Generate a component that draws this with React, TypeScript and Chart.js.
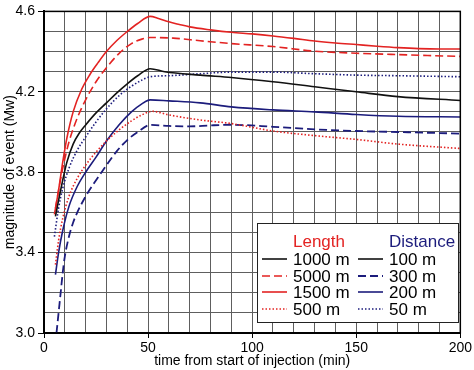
import React, { useEffect, useRef } from "react";
import { Chart, registerables } from "chart.js";
Chart.register(...registerables);

// ---- data (time in min, magnitude Mw) ----
const black1000T = [5.5, 7, 9, 11, 14, 17, 20, 25, 30, 35, 40, 45, 51, 58, 75, 90, 110, 130, 150, 170, 200];
const black1000V = [3.58, 3.66, 3.76, 3.85, 3.94, 3.995, 4.035, 4.095, 4.145, 4.195, 4.24, 4.28, 4.315, 4.30, 4.283, 4.271, 4.25, 4.225, 4.20, 4.176, 4.157];

const red5000T = [5.5, 7, 9, 12, 16, 20, 25, 30, 36, 42, 47, 51, 62, 75, 90, 110, 130, 150, 170, 200];
const red5000V = [3.62, 3.71, 3.82, 3.95, 4.07, 4.16, 4.25, 4.32, 4.39, 4.44, 4.462, 4.47, 4.467, 4.454, 4.44, 4.425, 4.402, 4.392, 4.385, 4.376];

const red1500T = [5, 7, 9, 11, 14, 18, 22, 26, 30, 35, 40, 45, 51, 55, 60, 65, 70, 80, 90, 100, 110, 120, 130, 140, 150, 160, 170, 180, 190, 200];
const red1500V = [3.59, 3.71, 3.85, 3.97, 4.10, 4.21, 4.285, 4.345, 4.40, 4.455, 4.50, 4.54, 4.575, 4.565, 4.548, 4.535, 4.523, 4.508, 4.496, 4.488, 4.478, 4.466, 4.453, 4.443, 4.435, 4.427, 4.42, 4.415, 4.413, 4.413];

const red500T = [5.5, 7, 9, 12, 16, 20, 25, 30, 36, 42, 47, 52, 60, 75, 90, 110, 130, 150, 170, 200];
const red500V = [3.34, 3.46, 3.57, 3.68, 3.77, 3.835, 3.90, 3.955, 4.01, 4.055, 4.085, 4.103, 4.085, 4.06, 4.042, 4.005, 3.982, 3.963, 3.94, 3.918];

const navy300T = [6, 7, 8, 9, 10, 12, 14, 16, 20, 24, 27, 30, 35, 40, 45, 51, 60, 70, 80, 90, 110, 130, 150, 170, 200];
const navy300V = [3.0, 3.1, 3.2, 3.3, 3.38, 3.48, 3.55, 3.60, 3.68, 3.745, 3.79, 3.835, 3.905, 3.96, 4.0, 4.035, 4.03, 4.028, 4.033, 4.036, 4.026, 4.013, 4.005, 4.0, 3.992];

const navy200T = [5.5, 7, 9, 12, 16, 20, 25, 30, 36, 42, 47, 51, 60, 75, 90, 110, 130, 150, 170, 200];
const navy200V = [3.29, 3.40, 3.51, 3.63, 3.73, 3.80, 3.875, 3.955, 4.035, 4.10, 4.14, 4.16, 4.155, 4.145, 4.125, 4.11, 4.10, 4.087, 4.078, 4.075];

const navy50T = [5, 7, 9, 12, 16, 20, 25, 30, 36, 42, 47, 51, 60, 75, 90, 110, 130, 150, 170, 200];
const navy50V = [3.48, 3.62, 3.72, 3.82, 3.91, 3.975, 4.05, 4.115, 4.18, 4.228, 4.258, 4.275, 4.28, 4.29, 4.298, 4.298, 4.29, 4.283, 4.28, 4.275];

const xLabelTicks = [0, 50, 100, 150, 200];
const yLabelTicks = [3.0, 3.4, 3.8, 4.2, 4.6];

const lengthTitle = "Length";
const distanceTitle = "Distance";
const lengthLabels = ["1000 m", "5000 m", "1500 m", "500 m"];
const distanceLabels = ["100 m", "300 m", "200 m", "50 m"];

const xTitle = "time from start of injection (min)";
const yTitle = "magnitude of event (Mw)";

const RED = "#e32322";
const NAVY = "#1c1c7c";
const BLACK = "#111111";
const FONT = "'Liberation Sans', Arial, sans-serif";

const SOLID: number[] = [];
const DASH = [8, 4];
const DOT = [1.5, 2];

const toPts = (t: number[], v: number[]) => t.map((x, i) => ({ x, y: v[i] }));

type Style = { color: string; dash: number[]; width: number };
const lengthStyles: Style[] = [
  { color: BLACK, dash: SOLID, width: 1.6 },
  { color: RED, dash: DASH, width: 1.6 },
  { color: RED, dash: SOLID, width: 1.6 },
  { color: RED, dash: DOT, width: 1.6 },
];
const distanceStyles: Style[] = [
  { color: BLACK, dash: SOLID, width: 1.6 },
  { color: NAVY, dash: DASH, width: 1.8 },
  { color: NAVY, dash: SOLID, width: 1.6 },
  { color: NAVY, dash: DOT, width: 1.6 },
];

export default function App() {
  const ref = useRef<HTMLCanvasElement>(null);
  useEffect(() => {
    const canvas = ref.current!;
    const ds = (label: string, t: number[], v: number[], s: Style) => ({
      label,
      data: toPts(t, v),
      borderColor: s.color,
      backgroundColor: s.color,
      borderDash: s.dash,
      borderWidth: s.width,
      pointRadius: 0,
      fill: false,
      cubicInterpolationMode: "monotone" as const,
    });

    const overlay = {
      id: "overlay",
      afterDraw(chart: any) {
        const c = chart.ctx as CanvasRenderingContext2D;
        const a = chart.chartArea;
        c.save();
        c.strokeStyle = "#000";
        c.lineWidth = 1.5;
        c.setLineDash([]);
        c.strokeRect(a.left, a.top, a.right - a.left, a.bottom - a.top);
        c.fillStyle = "#000";
        c.font = `14px ${FONT}`;
        c.textAlign = "center";
        c.textBaseline = "middle";
        c.fillText(xTitle, (a.left + a.right) / 2, 361);
        c.save();
        c.translate(10, (a.top + a.bottom) / 2);
        c.rotate(-Math.PI / 2);
        c.fillText(yTitle, 0, 0);
        c.restore();
        const bx = 257, by = 223, bw = 201, bh = 99;
        c.fillStyle = "#fff";
        c.fillRect(bx, by, bw, bh);
        c.strokeStyle = "#222";
        c.lineWidth = 1;
        c.strokeRect(bx + 0.5, by + 0.5, bw, bh);
        c.font = `17px ${FONT}`;
        c.textAlign = "left";
        c.textBaseline = "middle";
        c.fillStyle = RED;
        c.fillText(lengthTitle, 293, 242);
        c.fillStyle = NAVY;
        c.fillText(distanceTitle, 389, 242);
        const rows = [259, 276, 292, 309];
        const drawCol = (labels: string[], styles: Style[], x0: number, x1: number, tx: number) => {
          labels.forEach((lab, i) => {
            const s = styles[i];
            const y = rows[i];
            c.strokeStyle = s.color;
            c.lineWidth = s.width;
            c.setLineDash(s.dash);
            c.beginPath();
            c.moveTo(x0, y);
            c.lineTo(x1, y);
            c.stroke();
            c.setLineDash([]);
            c.fillStyle = "#000";
            c.fillText(lab, tx, y + 1);
          });
        };
        drawCol(lengthLabels, lengthStyles, 262, 287, 293);
        drawCol(distanceLabels, distanceStyles, 358, 383, 389);
        c.restore();
      },
    };

    const chart = new Chart(canvas, {
      type: "line",
      data: {
        datasets: [
          ds(lengthLabels[0], black1000T, black1000V, lengthStyles[0]),
          ds(lengthLabels[1], red5000T, red5000V, lengthStyles[1]),
          ds(lengthLabels[2], red1500T, red1500V, lengthStyles[2]),
          ds(lengthLabels[3], red500T, red500V, lengthStyles[3]),
          ds(distanceLabels[1], navy300T, navy300V, distanceStyles[1]),
          ds(distanceLabels[2], navy200T, navy200V, distanceStyles[2]),
          ds(distanceLabels[3], navy50T, navy50V, distanceStyles[3]),
        ],
      },
      options: {
        animation: false,
        responsive: false,
        devicePixelRatio: 1,
        layout: { padding: { top: 7, right: 11, left: 0, bottom: 0 } },
        plugins: { legend: { display: false }, tooltip: { enabled: false }, title: { display: false } },
        scales: {
          x: {
            type: "linear",
            min: 0,
            max: 200,
            afterFit: (s: any) => { s.height = 37; },
            ticks: {
              stepSize: 10,
              autoSkip: false,
              maxRotation: 0,
              padding: 2,
              color: "#000",
              font: { size: 14, family: FONT },
              callback: (v: any) => (xLabelTicks.includes(Math.round(Number(v))) ? String(Math.round(Number(v))) : ""),
            },
            grid: {
              color: "#5e5e5e",
              lineWidth: 1,
              tickLength: 5,
              tickColor: (ctx: any) =>
                ctx.tick && xLabelTicks.includes(Math.round(ctx.tick.value)) ? "#000" : "rgba(0,0,0,0)",
            },
            border: { display: true, color: "#000", width: 2 },
          },
          y: {
            type: "linear",
            min: 3.0,
            max: 4.6,
            afterFit: (s: any) => { s.width = 44; },
            ticks: {
              stepSize: 0.1,
              autoSkip: false,
              padding: 3,
              color: "#000",
              font: { size: 14, family: FONT },
              callback: (v: any) => {
                const n = Math.round(Number(v) * 10) / 10;
                return yLabelTicks.some((t) => Math.abs(t - n) < 1e-6) ? n.toFixed(1) : "";
              },
            },
            grid: {
              color: "#5e5e5e",
              lineWidth: 1,
              tickLength: 6,
              tickColor: (ctx: any) => {
                const n = ctx.tick ? Math.round(ctx.tick.value * 10) / 10 : -1;
                return yLabelTicks.some((t) => Math.abs(t - n) < 1e-6) ? "#000" : "rgba(0,0,0,0)";
              },
            },
            border: { display: true, color: "#000", width: 2 },
          },
        },
      },
      plugins: [overlay],
    } as any);
    return () => chart.destroy();
  }, []);

  return (
    <div style={{ position: "fixed", left: 0, top: 0, width: 474, height: 370, background: "#fff" }}>
      <canvas ref={ref} width={474} height={370} style={{ width: 474, height: 370, display: "block" }} />
    </div>
  );
}
